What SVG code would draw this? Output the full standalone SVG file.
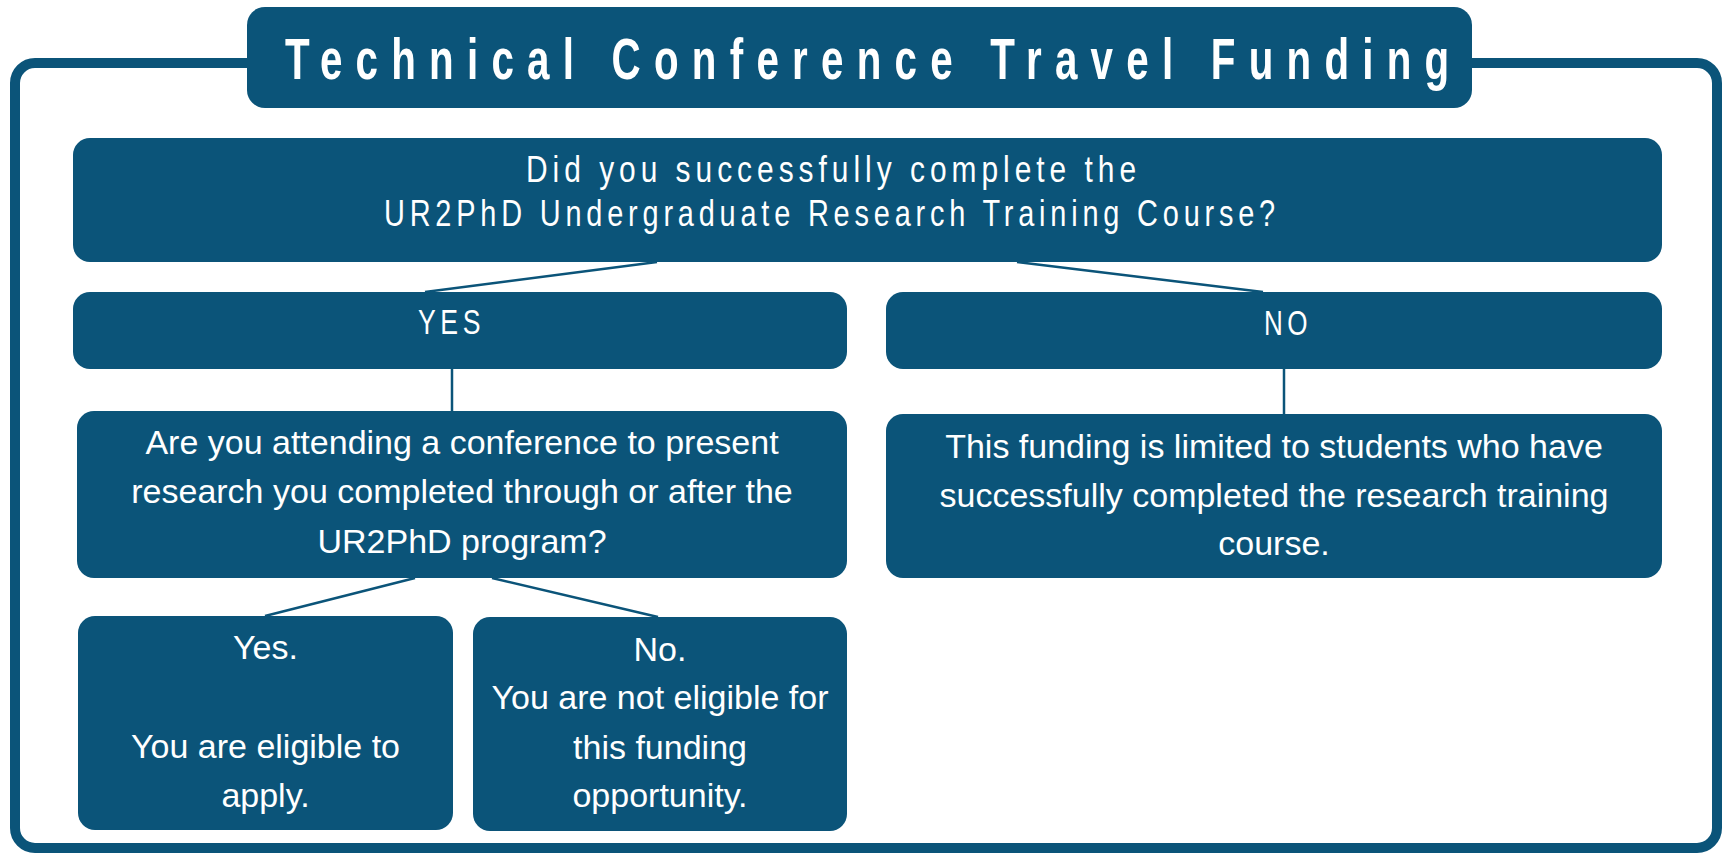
<svg xmlns="http://www.w3.org/2000/svg" width="1732" height="865" viewBox="0 0 1732 865">
<style>
.box{fill:#0b5479;}
.frame{fill:none;stroke:#0b5479;stroke-width:10;}
.conn{stroke:#0b5479;stroke-width:2.5;fill:none;}
text{fill:#ffffff;font-family:"Liberation Sans",Arial,sans-serif;}
.title{font-size:58px;font-weight:bold;letter-spacing:19px;}
.q1{font-size:36px;letter-spacing:6px;}
.yn{font-size:35px;letter-spacing:6px;}
.body{font-size:34px;text-anchor:middle;}
</style>
<rect width="1732" height="865" fill="#ffffff"/>
<rect id="frame" class="frame" x="15" y="63" width="1702" height="785" rx="20"/>
<g id="title">
<rect class="box" x="247" y="7" width="1225" height="101" rx="18"/>
<text class="title" transform="translate(285,79) scale(0.696,1)" x="0" y="0">Technical Conference Travel Funding</text>
</g>
<g id="connectors">
<line class="conn" x1="657" y1="262" x2="425" y2="292"/>
<line class="conn" x1="1017" y1="262" x2="1263" y2="292"/>
<line class="conn" x1="452" y1="369" x2="452" y2="411"/>
<line class="conn" x1="1284" y1="369" x2="1284" y2="414"/>
<line class="conn" x1="415" y1="578" x2="265" y2="616"/>
<line class="conn" x1="492" y1="578" x2="658" y2="617"/>
</g>
<g id="q1">
<rect class="box" x="73" y="138" width="1589" height="124" rx="17"/>
<text class="q1" x="526" y="182" textLength="615" lengthAdjust="spacingAndGlyphs">Did you successfully complete the</text>
<text class="q1" x="384" y="226" textLength="896" lengthAdjust="spacingAndGlyphs">UR2PhD Undergraduate Research Training Course?</text>
</g>
<g id="yes">
<rect class="box" x="73" y="292" width="774" height="77" rx="17"/>
<text class="yn" x="418" y="334" textLength="67" lengthAdjust="spacingAndGlyphs">YES</text>
</g>
<g id="no">
<rect class="box" x="886" y="292" width="776" height="77" rx="17"/>
<text class="yn" x="1264" y="335" textLength="48" lengthAdjust="spacingAndGlyphs">NO</text>
</g>
<g id="q2">
<rect class="box" x="77" y="411" width="770" height="167" rx="17"/>
<text class="body" x="462" y="454">Are you attending a conference to present</text>
<text class="body" x="462" y="503">research you completed through or after the</text>
<text class="body" x="462" y="553">UR2PhD program?</text>
</g>
<g id="no-result">
<rect class="box" x="886" y="414" width="776" height="164" rx="17"/>
<text class="body" x="1274" y="458">This funding is limited to students who have</text>
<text class="body" x="1274" y="507">successfully completed the research training</text>
<text class="body" x="1274" y="555">course.</text>
</g>
<g id="eligible">
<rect class="box" x="78" y="616" width="375" height="214" rx="17"/>
<text class="body" x="265.5" y="659">Yes.</text>
<text class="body" x="265.5" y="758">You are eligible to</text>
<text class="body" x="265.5" y="807">apply.</text>
</g>
<g id="not-eligible">
<rect class="box" x="473" y="617" width="374" height="214" rx="17"/>
<text class="body" x="660" y="661">No.</text>
<text class="body" x="660" y="709">You are not eligible for</text>
<text class="body" x="660" y="759">this funding</text>
<text class="body" x="660" y="807">opportunity.</text>
</g>
</svg>
